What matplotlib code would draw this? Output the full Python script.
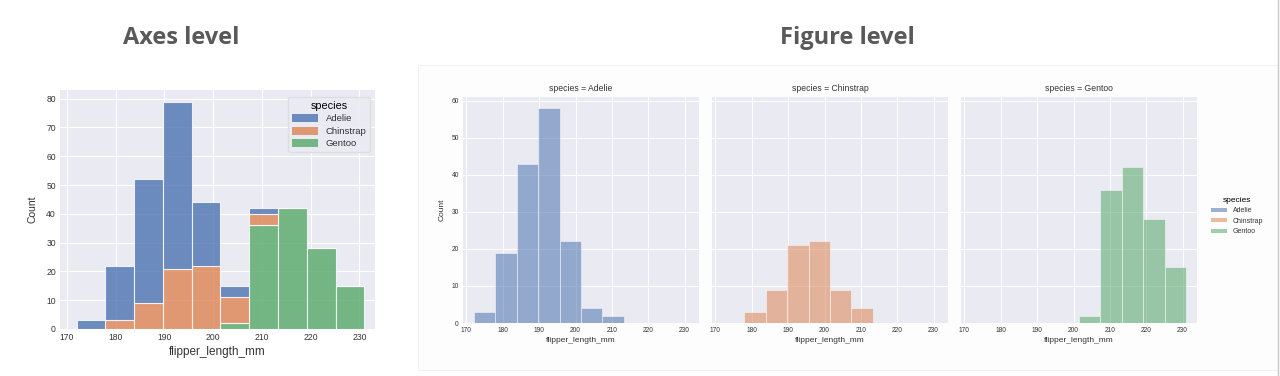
import numpy as np
import matplotlib
matplotlib.use("Agg")
import matplotlib.pyplot as plt
from matplotlib.patches import Patch, Rectangle

# ---------------- data ----------------
species = ["Adelie", "Chinstrap", "Gentoo"]
flipper_min = 172.0
flipper_max = 231.0
n_bins = 10
adelie_counts = [3, 19, 43, 58, 22, 4, 2, 0, 0, 0]
chinstrap_counts = [0, 3, 9, 21, 22, 9, 4, 0, 0, 0]
gentoo_counts = [0, 0, 0, 0, 0, 2, 36, 42, 28, 15]
x_ticks = [170, 180, 190, 200, 210, 220, 230]
y_ticks_left = [0, 10, 20, 30, 40, 50, 60, 70, 80]
y_ticks_right = [0, 10, 20, 30, 40, 50, 60]
header_left = "Axes level"
header_right = "Figure level"

counts = {"Adelie": adelie_counts, "Chinstrap": chinstrap_counts, "Gentoo": gentoo_counts}
palette = {"Adelie": "#4c72b0", "Chinstrap": "#dd8452", "Gentoo": "#55a868"}

edges = np.linspace(flipper_min, flipper_max, n_bins + 1)
width = np.diff(edges)

W, H = 1280, 376
fig = plt.figure(figsize=(W / 100, H / 100), dpi=100)
fig.patch.set_facecolor("white")
plt.rcParams["font.family"] = ["Liberation Sans", "DejaVu Sans"]

def px_axes(l, t, r, b):
    return fig.add_axes([l / W, 1 - b / H, (r - l) / W, (b - t) / H])

def style(ax, tick_fs):
    ax.set_facecolor("#eaeaf2")
    for s in ax.spines.values():
        s.set_visible(False)
    ax.grid(True, color="white", linewidth=0.8)
    ax.set_axisbelow(True)
    ax.tick_params(length=0, labelsize=tick_fs, colors="#333333", pad=3)

# faint frame of right screenshot
fig.add_artist(Rectangle((418 / W, 1 - 370 / H), 860 / W, 305 / H,
                         transform=fig.transFigure, facecolor="#fdfdfd",
                         edgecolor="#f2f2f2", linewidth=0.8, zorder=-10))
fig.add_artist(plt.Line2D([1278 / W, 1278 / W], [0, 1], transform=fig.transFigure,
                          color="#c8c8c8", linewidth=1.0, zorder=-5))

# headers
fig.text(181 / W, 1 - 38 / H, header_left, ha="center", va="center",
         fontsize=17, fontweight="bold", color="#595959", family="Open Sans")
fig.text(847 / W, 1 - 38 / H, header_right, ha="center", va="center",
         fontsize=17, fontweight="bold", color="#595959", family="Open Sans")

# ---------------- axes level (stacked) ----------------
ax = px_axes(60, 90, 375, 329)
style(ax, 6.2)
bottom = np.zeros(n_bins)
for sp in reversed(species):
    vals = np.array(counts[sp], dtype=float)
    ax.bar(edges[:-1], vals, width=width, bottom=bottom, align="edge",
           color=palette[sp], alpha=0.8, edgecolor="white", linewidth=0.8)
    bottom += vals
ax.set_xlim(168.6, 233.2)
ax.set_ylim(0, 83)
ax.set_xticks(x_ticks)
ax.set_yticks(y_ticks_left)
ax.set_xlabel("flipper_length_mm", fontsize=8.5, color="#333333", labelpad=3)
ax.set_ylabel("Count", fontsize=7.5, color="#333333", labelpad=6)
handles = [Patch(facecolor=palette[s], alpha=0.8, edgecolor="none") for s in species]
leg = ax.legend(handles, species, title="species", loc="upper right", fontsize=6.8,
                title_fontsize=7.8, frameon=True, facecolor="#eaeaf2",
                edgecolor="#dddddd", handlelength=2.8, handleheight=0.9,
                borderpad=0.4, labelspacing=0.35, bbox_to_anchor=(1.0, 0.99))
leg.get_frame().set_alpha(0.9)
for t in leg.get_texts():
    t.set_color("#333333")

# ---------------- figure level (facets) ----------------
lefts = [463, 712, 961]
for i, sp in enumerate(species):
    a = px_axes(lefts[i], 97, lefts[i] + 236, 323)
    style(a, 4.8)
    a.bar(edges[:-1], counts[sp], width=width, align="edge",
          color=palette[sp], alpha=0.55, edgecolor="white", linewidth=0.6)
    a.set_xlim(169.05, 233.95)
    a.set_ylim(0, 61)
    a.set_xticks(x_ticks)
    a.set_yticks(y_ticks_right)
    a.grid(True, color="white", linewidth=0.7)
    a.set_title(f"species = {sp}", fontsize=6.2, color="#333333", pad=4)
    a.set_xlabel("flipper_length_mm", fontsize=6, color="#333333", labelpad=2)
    if i == 0:
        a.set_ylabel("Count", fontsize=6, color="#333333", labelpad=4)
    else:
        a.set_yticklabels([])

fh = [Patch(facecolor=palette[s], alpha=0.55, edgecolor="none") for s in species]
fleg = fig.legend(fh, species, title="species", loc="center",
                  bbox_to_anchor=(1237 / W, 1 - 216 / H), fontsize=5,
                  title_fontsize=6, frameon=False, handlelength=2.4,
                  handleheight=0.6, labelspacing=0.5)
for t in fleg.get_texts():
    t.set_color("#333333")

fig.savefig("out.png", dpi=100, facecolor="white")
